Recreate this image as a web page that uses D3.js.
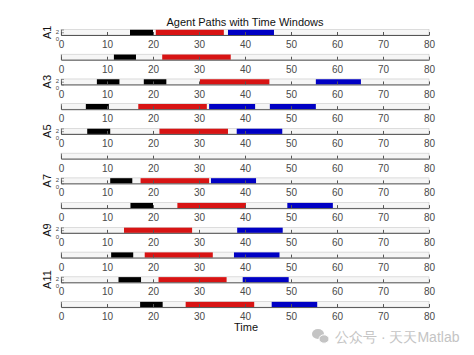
<!DOCTYPE html>
<html lang="en">
<head>
<meta charset="UTF-8">
<title>Agent Paths with Time Windows</title>
<script src="https://d3js.org/d3.v7.min.js"></script>
<style>
  body { margin: 0; background: #fff; }
  text { font-family: "Liberation Sans", Arial, sans-serif; }
</style>
</head>
<body>
<div id="chart"></div>
<script>
// agents, top to bottom
const agents = ["A1","A2","A3","A4","A5","A6","A7","A8","A9","A10","A11","A12"];
// time windows per agent: [start, end]
const blackWin = [
  [[15.0, 20.0]], [[11.5, 16.3]], [[7.8, 12.7], [18.0, 22.9]], [[5.4, 10.4]],
  [[5.7, 10.7]], [], [[10.7, 15.5]], [[15.1, 20.0]],
  [], [[10.9, 15.7]], [[12.5, 17.4]], [[17.2, 22.1]]
];
const redWin = [
  [[20.6, 35.4]], [[22.0, 36.9]], [[30.2, 45.3]], [[16.8, 31.7]],
  [[21.4, 36.3]], [], [[17.3, 32.2]], [[25.3, 40.2]],
  [[13.7, 28.5]], [[18.2, 33.0]], [[21.2, 36.0]], [[27.1, 42.0]]
];
const blueWin = [
  [[36.3, 46.3]], [], [[55.4, 65.2]], [[32.2, 42.2], [45.4, 55.4]],
  [[38.2, 48.1]], [], [[32.6, 42.4]], [[49.2, 59.1]],
  [[38.3, 48.2]], [[37.6, 47.5]], [[39.5, 49.5]], [[45.8, 55.7]]
];
const xTicks = [0, 10, 20, 30, 40, 50, 60, 70, 80];
const yTicks = [0, 1, 2];

const width = 474, height = 355;
const svg = d3.select("#chart").append("svg")
  .attr("width", width).attr("height", height);

const x = d3.scaleLinear().domain([0, 80]).range([61, 429]);
const row = d3.scaleBand().domain(agents).range([29.5, 326.3]).paddingInner(0).paddingOuter(0);
const axH = 5.5;

svg.append("text")
  .attr("x", 245).attr("y", 26)
  .attr("text-anchor", "middle")
  .attr("font-size", 11).attr("fill", "#111")
  .text("Agent Paths with Time Windows");

agents.forEach((a, i) => {
  const top = row(a);
  const y = d3.scaleLinear().domain([0, 2]).range([top + axH, top]);
  const g = svg.append("g");

  // axes background
  g.append("rect")
    .attr("x", x(0)).attr("y", top)
    .attr("width", x(80) - x(0)).attr("height", axH)
    .attr("fill", "#f6f6f6").attr("stroke", "#c8c8c8").attr("stroke-width", 0.6);

  const bars = [
    { wins: blackWin[i], color: "#000000" },
    { wins: redWin[i], color: "#d81414" },
    { wins: blueWin[i], color: "#0000c4" }
  ];
  bars.forEach(b => {
    g.selectAll(null).data(b.wins).enter().append("rect")
      .attr("x", d => x(d[0]))
      .attr("width", d => x(d[1]) - x(d[0]))
      .attr("y", y(2) + 0.3)
      .attr("height", y(0) - y(2) - 0.3)
      .attr("fill", b.color);
  });

  // x axis
  const xa = g.append("g").attr("transform", `translate(0,${top + axH})`)
    .call(d3.axisBottom(x).tickValues(xTicks).tickSizeInner(-3).tickSizeOuter(0).tickPadding(6));
  xa.select(".domain").attr("stroke", "#555").attr("stroke-width", 1);
  xa.selectAll(".tick line").attr("stroke", "#555");
  xa.selectAll("text").attr("font-size", 10).attr("fill", "#4a4a4a")
    .attr("font-family", "'Liberation Sans', Arial, sans-serif");

  // y axis (left)
  const ya = g.append("g").attr("transform", `translate(${x(0)},0)`)
    .call(d3.axisLeft(y).tickValues(i % 2 === 0 ? yTicks : []).tickSizeInner(-3).tickSizeOuter(0)
      .tickFormat(d => d === 1 ? "" : d).tickPadding(2));
  ya.select(".domain").attr("stroke", "#555").attr("stroke-width", 0.8);
  ya.selectAll(".tick line").attr("stroke", "#555").attr("stroke-width", 0.6);
  ya.selectAll("text").attr("font-size", 6).attr("fill", "#4a4a4a")
    .attr("font-family", "'Liberation Sans', Arial, sans-serif");
  ya.selectAll(".tick").filter(d => d === 0).select("text").attr("dy", "0.9em");
  ya.selectAll(".tick").filter(d => d === 2).select("text").attr("dy", "0.6em");

  if (i % 2 === 0) {
    g.append("text")
      .attr("transform", `translate(51,${top + axH / 2}) rotate(-90)`)
      .attr("text-anchor", "middle")
      .attr("font-size", 11).attr("fill", "#111")
      .text(a);
  }
});

svg.append("text")
  .attr("x", 246).attr("y", 331)
  .attr("text-anchor", "middle")
  .attr("font-size", 11).attr("fill", "#111")
  .text("Time");

// watermark
const wm = svg.append("g").attr("fill", "#c4c4c4");
wm.append("ellipse").attr("cx", 318).attr("cy", 334).attr("rx", 6).attr("ry", 5);
wm.append("ellipse").attr("cx", 324).attr("cy", 339).attr("rx", 5).attr("ry", 4.2).attr("stroke", "#fff").attr("stroke-width", 1);
wm.append("text")
  .attr("x", 335).attr("y", 342)
  .attr("font-size", 14)
  .attr("font-family", "'Noto Sans CJK SC', 'Noto Sans', sans-serif")
  .text("公众号 · 天天Matlab");
</script>
</body>
</html>
